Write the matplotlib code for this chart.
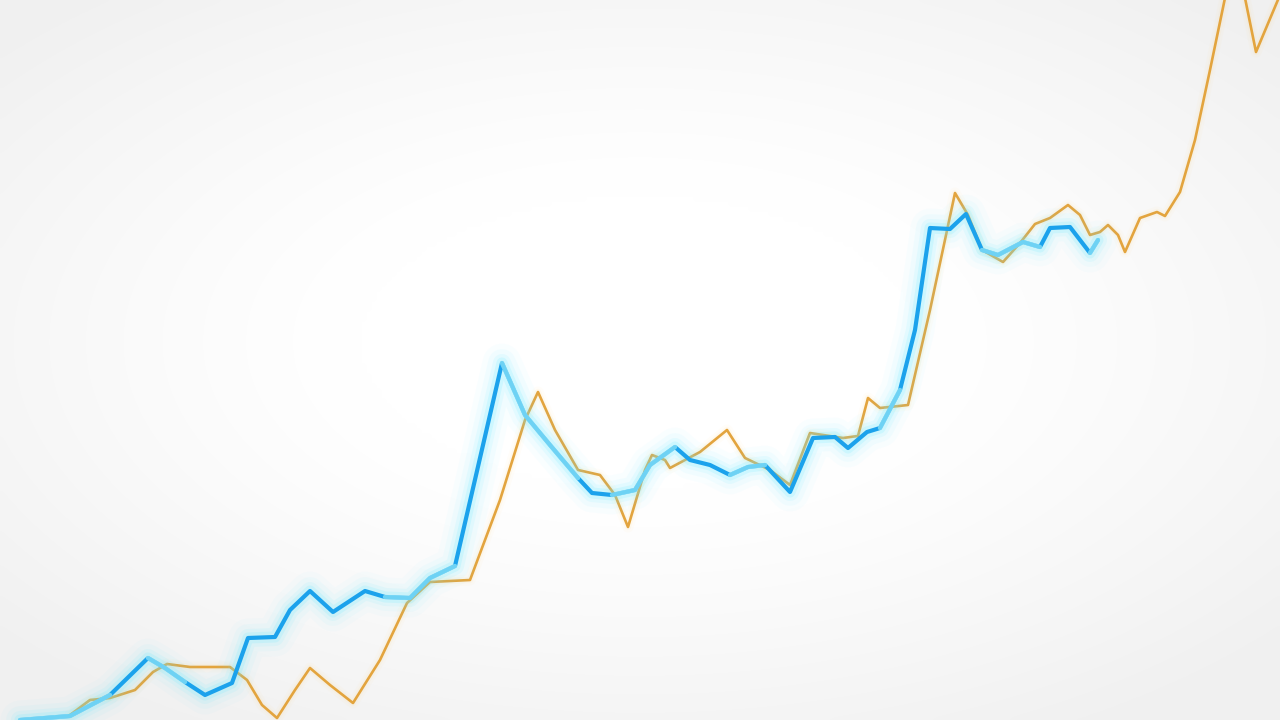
import numpy as np
import matplotlib
matplotlib.use("Agg")
import matplotlib.pyplot as plt

# ---- data (x position, value = height from bottom) ----
blue_x = [20, 70, 110, 148, 165, 185, 205, 232, 248, 275, 290, 310, 333, 365, 385, 410,
          430, 455, 502, 525, 550, 578, 592, 612, 635, 650, 675, 690, 710, 730, 748, 765,
          790, 813, 835, 848, 867, 880, 900, 915, 930, 950, 966, 982, 998, 1023, 1040,
          1050, 1070, 1090, 1098]
blue_v = [0, 4, 25, 62, 52, 38, 25, 37, 82, 83, 110, 129, 108, 129, 123, 122,
          142, 154, 357, 305, 275, 242, 227, 225, 230, 255, 273, 260, 255, 245, 253, 255,
          228, 282, 283, 272, 288, 292, 330, 390, 492, 491, 506, 470, 465, 478, 473,
          492, 493, 467, 480]

orange_x = [70, 90, 110, 135, 153, 167, 190, 230, 247, 262, 277, 295, 310, 330, 353, 380,
            407, 430, 470, 500, 525, 538, 555, 578, 600, 615, 628, 645, 652, 665, 670,
            700, 727, 745, 770, 790, 810, 843, 858, 868, 880, 908, 930, 955, 968, 982,
            1003, 1020, 1035, 1050, 1068, 1080, 1090, 1100, 1108, 1118, 1125, 1140, 1157,
            1165, 1180, 1195, 1210, 1225, 1235, 1245, 1256, 1280]
orange_v = [5, 20, 22, 30, 48, 56, 53, 53, 40, 15, 2, 30, 52, 35, 17, 60,
            117, 138, 140, 220, 300, 328, 290, 250, 245, 225, 193, 250, 265, 260, 252,
            268, 290, 262, 250, 235, 287, 282, 284, 322, 312, 315, 410, 527, 505, 470,
            458, 477, 496, 502, 515, 505, 485, 488, 495, 485, 468, 502, 508,
            504, 528, 580, 650, 722, 740, 722, 668, 725]

# index ranges of the blue line drawn as light-cyan streaks
cyan_ranges = [(0, 2), (3, 5), (14, 17), (18, 21), (23, 26), (29, 31), (37, 38), (43, 46), (49, 50)]

fig = plt.figure(figsize=(12.8, 7.2), dpi=100)
ax = fig.add_axes([0, 0, 1, 1])
ax.set_xlim(0, 1280)
ax.set_ylim(0, 720)
ax.axis("off")

# vignette background
gx, gy = np.meshgrid(np.linspace(-1, 1, 256), np.linspace(-1, 1, 144))
r = np.sqrt((gx / 1.0) ** 2 + ((gy - 0.05) / 0.95) ** 2)
shade = 1.0 - 0.055 * np.clip((r - 0.45) / 0.85, 0, 1) ** 1.2
ax.imshow(np.dstack([shade, shade, shade]), extent=[0, 1280, 0, 720], origin="lower",
          aspect="auto", zorder=0, interpolation="bicubic")

# orange line with soft glow
for lw, a in [(8, 0.05), (4.5, 0.10)]:
    ax.plot(orange_x, orange_v, color="#ffd98a", lw=lw, alpha=a, solid_capstyle="round",
            solid_joinstyle="round", zorder=2)
ax.plot(orange_x, orange_v, color="#e3a43e", lw=1.9, solid_joinstyle="round",
        solid_capstyle="round", zorder=3)

# blue glowing line
for lw, a in [(28, 0.035), (20, 0.06), (13, 0.10), (8, 0.18)]:
    ax.plot(blue_x, blue_v, color="#6eeaff", lw=lw, alpha=a, solid_capstyle="round",
            solid_joinstyle="round", zorder=4)
ax.plot(blue_x, blue_v, color="#1ba2ec", lw=3.0, solid_capstyle="round",
        solid_joinstyle="round", zorder=5)
for i0, i1 in cyan_ranges:
    ax.plot(blue_x[i0:i1 + 1], blue_v[i0:i1 + 1], color="#a6f3fb", lw=3.2, alpha=0.6,
            solid_capstyle="round", solid_joinstyle="round", zorder=6)

fig.savefig("out.png", dpi=100)
